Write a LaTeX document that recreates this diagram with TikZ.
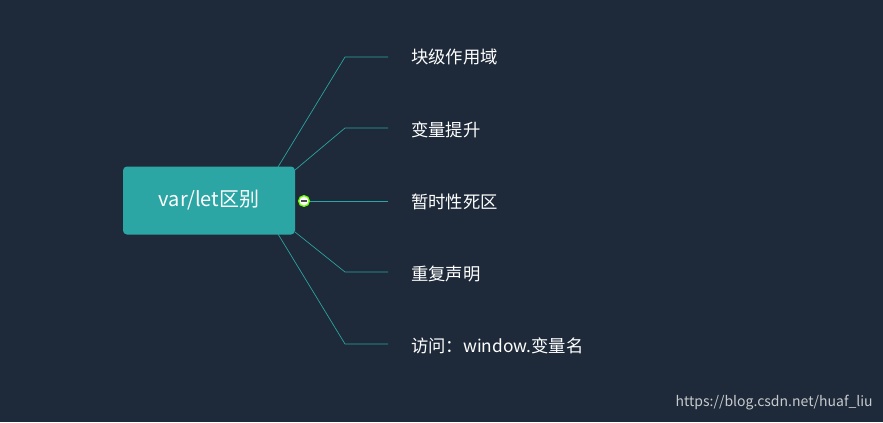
\documentclass[tikz,border=0pt]{standalone}
\usepackage{fontspec}
\setmainfont{Noto Sans CJK SC}
\begin{document}
\begin{tikzpicture}[x=0.75pt,y=-0.75pt,
  br/.style={draw=teal1,line width=0.5pt},
  lbl/.style={anchor=west,text=white,font=\fontsize{13}{15}\selectfont,inner sep=0pt}]
\definecolor{bg}{HTML}{1E2A39}
\definecolor{teal1}{HTML}{2CA6A4}
\fill[bg] (0,0) rectangle (883,422);
\useasboundingbox (0,0) rectangle (883,422);
\node[fill=teal1,rounded corners=3pt,minimum width=129pt,minimum height=51pt,text=white,font=\fontsize{15}{18}\selectfont] (c) at (209,200.5) {var/let区别};
\node[circle,fill=white,draw=green!60!yellow,line width=1pt,inner sep=0pt,minimum size=8pt] (t) at (304,201) {};
\draw[line width=1pt,black!70] (301,201)--(307,201);
\coordinate (s1) at (278,167);\coordinate (s2) at (295,170);
\coordinate (s4) at (295,232);\coordinate (s5) at (278,234);
\coordinate (e1) at (345,57);\coordinate (e2) at (345,128);
\coordinate (e4) at (345,272);\coordinate (e5) at (345,344);
\node[lbl] (l1) at (411,57) {块级作用域};
\node[lbl] (l2) at (411,130) {变量提升};
\node[lbl] (l3) at (411,202) {暂时性死区};
\node[lbl] (l4) at (411,274) {重复声明};
\node[lbl] (l5) at (411,346) {访问：window.变量名};
\draw[br] (s1)--(e1)--(388,57);
\draw[br] (s2)--(e2)--(388,128);
\draw[br] (t.east)--(388,201);
\draw[br] (s4)--(e4)--(388,272);
\draw[br] (s5)--(e5)--(388,344);
\node[anchor=east,text=white!75!bg,font=\fontsize{10.5}{12}\selectfont,inner sep=0pt] (w) at (873,403) {https://blog.csdn.net/huaf\_liu};
\end{tikzpicture}
\end{document}
